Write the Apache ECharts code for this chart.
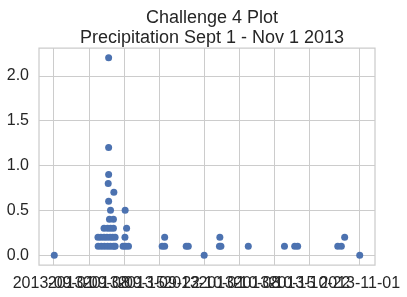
<!DOCTYPE html>
<html>
<head>
<meta charset="utf-8">
<script src="https://cdn.jsdelivr.net/npm/echarts@6/dist/echarts.min.js"></script>
<style>
html,body{margin:0;padding:0;background:#fff;}
#chart{width:407px;height:297px;}
</style>
</head>
<body>
<div id="chart"></div>
<script>
// Data
const titleLines = ['Challenge 4 Plot', 'Precipitation Sept 1 - Nov 1 2013'];
const dates = [
  '2013-09-01 03:00',
  '2013-09-09 20:00', '2013-09-09 21:00', '2013-09-10 10:00', '2013-09-10 12:00',
  '2013-09-11 01:00', '2013-09-11 01:00', '2013-09-11 03:00', '2013-09-11 15:00',
  '2013-09-11 18:00', '2013-09-11 18:00', '2013-09-11 21:00', '2013-09-11 23:00',
  '2013-09-11 23:00', '2013-09-11 23:00', '2013-09-11 23:00',
  '2013-09-12 03:00', '2013-09-12 06:00', '2013-09-12 08:00', '2013-09-12 08:00',
  '2013-09-12 08:00', '2013-09-12 18:00', '2013-09-12 22:00', '2013-09-12 22:00',
  '2013-09-12 22:00', '2013-09-13 00:00', '2013-09-13 06:00', '2013-09-13 06:00',
  '2013-09-14 20:00', '2013-09-15 05:00', '2013-09-15 06:00', '2013-09-15 08:00',
  '2013-09-15 13:00', '2013-09-15 22:00',
  '2013-09-22 15:00', '2013-09-23 03:00', '2013-09-23 03:00',
  '2013-09-27 10:00', '2013-09-27 20:00',
  '2013-10-01 00:00',
  '2013-10-04 01:00', '2013-10-04 03:00', '2013-10-04 08:00',
  '2013-10-09 19:00', '2013-10-17 00:00',
  '2013-10-19 01:00', '2013-10-19 15:00',
  '2013-10-27 15:00', '2013-10-28 08:00', '2013-10-29 00:00',
  '2013-11-01 00:00'
];
const precip = [
  0.0,
  0.2, 0.1, 0.2, 0.1,
  0.2, 0.3, 0.1, 0.2,
  0.1, 0.3, 0.8, 0.6,
  0.9, 1.2, 2.2,
  0.4, 0.2, 0.1, 0.3,
  0.5, 0.2, 0.1, 0.3,
  0.4, 0.7, 0.1, 0.2,
  0.1, 0.2, 0.5, 0.1,
  0.3, 0.1,
  0.1, 0.1, 0.2,
  0.1, 0.1,
  0.0,
  0.1, 0.2, 0.1,
  0.1, 0.1,
  0.1, 0.1,
  0.1, 0.1, 0.2,
  0.0
];
const xTicks = ['2013-09-01', '2013-09-08', '2013-09-15', '2013-09-22', '2013-10-01',
                '2013-10-08', '2013-10-15', '2013-10-22', '2013-11-01'];
const yTicks = [0.0, 0.5, 1.0, 1.5, 2.0];

function parseLocal(s) {
  const [d, t] = s.split(' ');
  const [Y, M, D] = d.split('-').map(Number);
  let h = 0, m = 0;
  if (t) { [h, m] = t.split(':').map(Number); }
  return new Date(Y, M - 1, D, h, m).getTime();
}
function pad(n) { return n < 10 ? '0' + n : '' + n; }
function fmtDate(v) {
  const d = new Date(v);
  return d.getFullYear() + '-' + pad(d.getMonth() + 1) + '-' + pad(d.getDate());
}

const xs = dates.map(parseLocal);
const pts = xs.map((x, i) => [x, precip[i]]);
const xMinD = Math.min(...xs), xMaxD = Math.max(...xs);
const xPad = (xMaxD - xMinD) * 0.05;
const yMinD = Math.min(...precip), yMaxD = Math.max(...precip);
const yPad = (yMaxD - yMinD) * 0.05;
const xTickVals = xTicks.map(parseLocal);

const textColor = '#262626';
const gridColor = '#cccccc';
const font = '"Liberation Sans", Arial, sans-serif';

// The reference's x labels overlap each other; ECharts drops overlapping
// neighbours of the end labels, so the labels are spread over three
// identical bottom axes whose own labels never overlap.
const labelAxes = [0, 1, 2].map(k => ({
  type: 'value',
  min: xMinD - xPad,
  max: xMaxD + xPad,
  position: 'bottom',
  axisLine: {show: false},
  axisTick: {show: false},
  splitLine: {show: false},
  axisLabel: {
    customValues: xTickVals.filter((v, i) => i % 3 === k),
    formatter: (v) => fmtDate(v),
    fontFamily: font, fontSize: 16, color: textColor, margin: 11,
    hideOverlap: false, showMinLabel: true, showMaxLabel: true
  }
}));

const chart = echarts.init(document.getElementById('chart'), null, {renderer: 'canvas'});
chart.setOption({
  animation: false,
  backgroundColor: '#ffffff',
  title: {
    text: titleLines.join('\n'),
    left: 207,
    textAlign: 'center',
    top: 3,
    textStyle: {
      fontFamily: font, fontSize: 18, fontWeight: 'normal',
      color: textColor, lineHeight: 20
    }
  },
  grid: {
    left: 39, right: 32, top: 48, bottom: 32,
    show: true, borderColor: gridColor, borderWidth: 1.25, backgroundColor: '#ffffff'
  },
  xAxis: [{
    type: 'value',
    min: xMinD - xPad,
    max: xMaxD + xPad,
    position: 'bottom',
    axisLine: {show: false},
    axisTick: {show: false, customValues: xTickVals},
    splitLine: {show: true, lineStyle: {color: gridColor, width: 1}},
    axisLabel: {show: false, customValues: xTickVals}
  }].concat(labelAxes),
  yAxis: {
    type: 'value',
    min: yMinD - yPad,
    max: yMaxD + yPad,
    axisLine: {show: false},
    axisTick: {show: false, customValues: yTicks},
    splitLine: {show: true, lineStyle: {color: gridColor, width: 1}},
    axisLabel: {
      customValues: yTicks,
      formatter: (v) => Number(v).toFixed(1),
      fontFamily: font, fontSize: 16, color: textColor, margin: 10,
      showMinLabel: true, showMaxLabel: true
    }
  },
  series: [{
    type: 'scatter',
    xAxisIndex: 0,
    data: pts,
    symbol: 'circle',
    symbolSize: 7,
    itemStyle: {color: '#4c72b0', opacity: 1}
  }]
});
</script>
</body>
</html>
